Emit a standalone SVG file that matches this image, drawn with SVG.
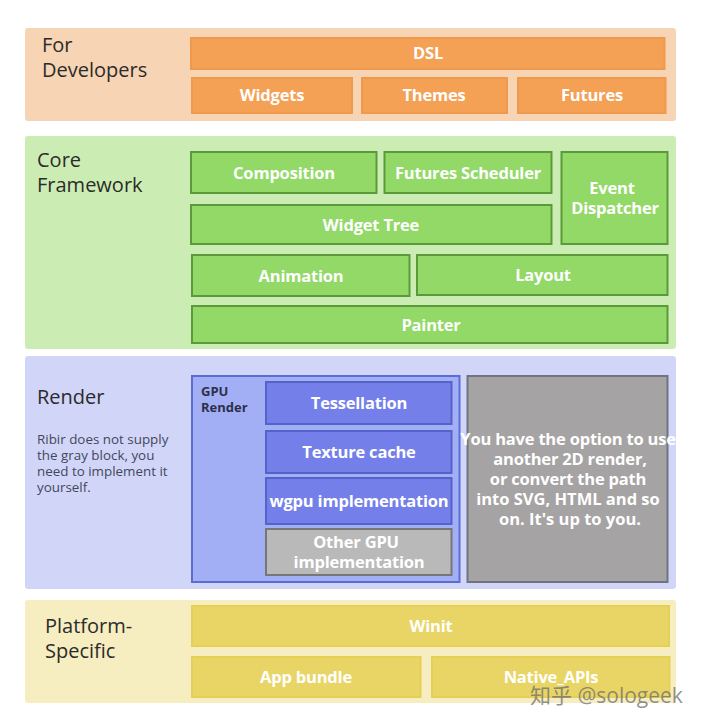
<svg xmlns="http://www.w3.org/2000/svg" width="701" height="728" viewBox="0 0 701 728">
<style>
text{font-family:"Open Sans","Noto Sans","Noto Sans CJK SC",sans-serif}
.b{stroke-width:2}
.l{font-size:20px;fill:#2b2b2b}
.t{font-size:16.5px;font-weight:700;fill:#fff;text-anchor:middle;letter-spacing:-.2px}
.o{fill:#f4a055;stroke:#f0994c}
.g{fill:#92d967;stroke:#5a9a3a}
.u{fill:#747fea;stroke:#5562c8}
.y{fill:#e9d566;stroke:#e5cf55}
</style>
<rect width="701" height="728" fill="#fff"/>
<g id="for-developers">
<rect x="25" y="28" width="651" height="93" rx="3" fill="#f7d4b3"/>
<text class="l" x="42" y="52">For<tspan x="42" y="77">Developers</tspan></text>
</g>
<g id="dsl"><rect class="o b" x="191" y="38" width="473.500" height="31"/><text class="t" x="428" y="59">DSL</text></g>
<g id="widgets"><rect class="o b" x="192" y="78" width="160" height="35"/><text class="t" x="272" y="101">Widgets</text></g>
<g id="themes"><rect class="o b" x="362" y="78" width="145" height="35"/><text class="t" x="434" y="101">Themes</text></g>
<g id="futures"><rect class="o b" x="518" y="78" width="147.500" height="35"/><text class="t" x="592" y="101">Futures</text></g>

<g id="core-framework">
<rect x="25" y="136" width="651" height="213" rx="3" fill="#cbedb3"/>
<text class="l" x="37" y="167">Core<tspan x="37" y="192">Framework</tspan></text>
</g>
<g id="composition"><rect class="g b" x="191" y="152" width="185.500" height="41"/><text class="t" x="284" y="179">Composition</text></g>
<g id="futures-scheduler"><rect class="g b" x="384.500" y="152" width="167" height="41"/><text class="t" x="468" y="179">Futures Scheduler</text></g>
<g id="event-dispatcher"><rect class="g b" x="561.500" y="152" width="106" height="92"/><text class="t" x="612" y="194">Event<tspan x="615" y="214">Dispatcher</tspan></text></g>
<g id="widget-tree"><rect class="g b" x="191" y="205" width="360.500" height="39"/><text class="t" x="371" y="231">Widget Tree</text></g>
<g id="animation"><rect class="g b" x="192" y="255" width="217.500" height="41"/><text class="t" x="301" y="282">Animation</text></g>
<g id="layout"><rect class="g b" x="417" y="255" width="250.500" height="40"/><text class="t" x="543" y="281">Layout</text></g>
<g id="painter"><rect class="g b" x="192" y="306" width="475.500" height="37"/><text class="t" x="431" y="331">Painter</text></g>

<g id="render">
<rect x="25" y="356" width="651" height="233" rx="3" fill="#d1d6f9"/>
<text class="l" x="37" y="404">Render</text>
<text font-size="13.400" fill="#44465c" x="37" y="444">Ribir does not supply<tspan x="37" y="460">the gray block, you</tspan><tspan x="37" y="476">need to implement it</tspan><tspan x="37" y="492">yourself.</tspan></text>
</g>
<g id="gpu-render"><rect x="192" y="376" width="267.500" height="206" fill="#a3aff5" stroke="#5a6dd6" stroke-width="2"/>
<text font-size="13" font-weight="700" fill="#2c2f4a" x="201" y="396">GPU<tspan x="201" y="412">Render</tspan></text></g>
<g id="tessellation"><rect class="u b" x="266" y="382" width="185.500" height="42"/><text class="t" x="359" y="409">Tessellation</text></g>
<g id="texture-cache"><rect class="u b" x="266" y="431" width="185.500" height="42"/><text class="t" x="359" y="458">Texture cache</text></g>
<g id="wgpu-implementation"><rect class="u b" x="266" y="478" width="185.500" height="46"/><text class="t" x="359" y="507">wgpu implementation</text></g>
<g id="other-gpu"><rect x="266" y="529" width="185.500" height="46" fill="#b9b9b9" stroke="#777" stroke-width="2"/><text class="t" x="356" y="548">Other GPU<tspan x="359" y="568">implementation</tspan></text></g>
<g id="other-render"><rect x="467.500" y="376" width="200" height="206" fill="#a5a3a3" stroke="#6f7480" stroke-width="2"/>
<text class="t" x="568" y="445">You have the option to use<tspan x="570" y="465">another 2D render,</tspan><tspan x="568" y="485">or convert the path</tspan><tspan x="568" y="505" letter-spacing="0">into SVG, HTML and so</tspan><tspan x="570" y="525" letter-spacing="0">on. It's up to you.</tspan></text></g>

<g id="platform-specific">
<rect x="25" y="600" width="651" height="103" rx="3" fill="#f6edc0"/>
<text class="l" x="45" y="633">Platform-<tspan x="45" y="658">Specific</tspan></text>
</g>
<g id="winit"><rect class="y b" x="192" y="606" width="477" height="40"/><text class="t" x="431" y="632">Winit</text></g>
<g id="app-bundle"><rect class="y b" x="192" y="657" width="228.500" height="40"/><text class="t" x="306" y="683">App bundle</text></g>
<g id="native-apis"><rect class="y b" x="432" y="657" width="237.500" height="40"/><text class="t" x="551" y="683">Native_APIs</text></g>
<text x="530" y="703" font-size="21" fill="#6e6e6e" fill-opacity=".75">知乎 @sologeek</text>
<g id="connectors"/>
</svg>
